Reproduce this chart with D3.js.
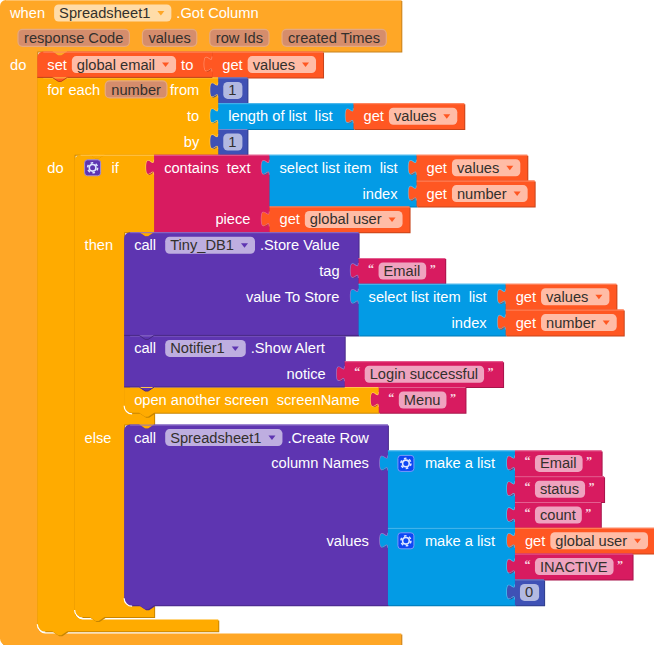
<!DOCTYPE html>
<html>
<head>
<meta charset="utf-8">
<script src="https://cdnjs.cloudflare.com/ajax/libs/d3/7.8.5/d3.min.js"></script>
<style>
body { margin: 0; background: #fff; }
svg { display: block; }
text { font-family: "Liberation Sans", Arial, sans-serif; font-size: 14.67px; white-space: pre; }
</style>
</head>
<body>
<div id="chart"></div>
<script>
// text of the blocks
var eventParams = ["response Code", "values", "row Ids", "created Times"];
var componentNames = ["Spreadsheet1", "Tiny_DB1", "Notifier1"];
var methodNames = [".Got Column", ".Store Value", ".Show Alert", ".Create Row"];
var loopNumbers = [1, 1];
var loopVar = "number";
var listValues = "values";
var globalEmail = "global email";
var globalUser = "global user";
var columnNames = ["Email", "status", "count"];
var rowValues = ["INACTIVE"];
var rowCount = [0];
var storeTag = "Email";
var alertText = "Login successful";
var screenName = "Menu";

var colors = {
    event: "#FFA726", control: "#FFAB00", variable: "#FF5722", math: "#3F51B5",
    text: "#D81B60", list: "#039BE5", component: "#5E35B1"
};

var width = 654;
var height = 645;
var rowH = 25.8;
var barH = 11.8;
var tabW = 8;

var ctx = document.createElement("canvas").getContext("2d");
ctx.font = "14.67px 'Liberation Sans'";
function textW(s) { return ctx.measureText(s).width; }

// parts of a row
function label(s) { return {type: "label", text: s, w: textW(s)}; }
function field(s) { return {type: "field", text: s, w: textW(s) + 26, arrow: true}; }
function chip(s) { return {type: "field", text: String(s), w: textW(String(s)) + 11}; }
function param(s, gap) { return {type: "param", text: s, w: textW(s) + 12, gap: gap}; }
function icon(c) { return {type: "icon", color: c, w: 16}; }
function quote(s) { return {type: "quote", text: s, w: 5}; }

function gapAfter(p, next) {
    if (p.gap) return p.gap;
    if (p.type == "icon") return 11;
    if (p.type == "quote") return 5;
    if (next && next.type == "quote") return 4;
    return 5;
}
function rowContent(row) {
    var w = row.indent || 0;
    row.parts.forEach(function (p, i) {
        w += p.w;
        if (i < row.parts.length - 1) w += gapAfter(p, row.parts[i + 1]);
    });
    return w;
}

// block builders
function value(color, rows, endPad, padL) {
    return {kind: "value", color: color, rows: rows, endPad: endPad === undefined ? 19 : endPad, padL: padL === undefined ? 10 : padL};
}
function stmt(color, rows, kind, endPad) {
    return {kind: kind || "stmt", color: color, rows: rows, endPad: endPad === undefined ? 19 : endPad, padL: 10};
}
function getVar(name) { return value(colors.variable, [{parts: [label("get"), field(name)]}], 7); }
function str(s) { return value(colors.text, [{parts: [quote("\u201c"), chip(s), quote("\u201d")]}], 10); }
function num(n) { return value(colors.math, [{parts: [chip(n)]}], 5, 5); }
function selectItem(list, index) {
    return value(colors.list, [
        {parts: [label("select list item\u00a0 list")], input: getVar(list)},
        {parts: [label("index")], input: getVar(index)}
    ]);
}
function makeList(inputs) {
    return value(colors.list, inputs.map(function (b, i) {
        return {parts: i == 0 ? [icon("#0D47F5"), label("make a list")] : [], input: b};
    }), 20);
}

var tree = stmt(colors.event, [
    {parts: [label("when\u00a0"), field(componentNames[0]), label(methodNames[0])]},
    {parts: eventParams.map(function (s) { return param(s, 13); }), indent: 8},
    {parts: [label("do")], stack: [
        stmt(colors.variable, [
            {parts: [label("set"), field(globalEmail), label("to")], input: getVar(listValues)}
        ]),
        stmt(colors.control, [
            {parts: [label("for each"), param(loopVar, 3), label("from")], input: num(loopNumbers[0])},
            {parts: [label("to")], input: value(colors.list, [
                {parts: [label("length of list\u00a0 list")], input: getVar(listValues)}
            ], 21)},
            {parts: [label("by")], input: num(loopNumbers[1])},
            {parts: [label("do")], stack: [
                stmt(colors.control, [
                    {parts: [icon("#5E35B1"), label("if")], input: value(colors.text, [
                        {parts: [label("contains\u00a0 text")], input: selectItem(listValues, loopVar)},
                        {parts: [label("piece")], input: getVar(globalUser)}
                    ])},
                    {parts: [label("then")], stack: [
                        stmt(colors.component, [
                            {parts: [label("call\u00a0"), field(componentNames[1]), label(methodNames[1])]},
                            {parts: [label("tag")], input: str(storeTag)},
                            {parts: [label("value To Store")], input: selectItem(listValues, loopVar)}
                        ]),
                        stmt(colors.component, [
                            {parts: [label("call\u00a0"), field(componentNames[2]), label(methodNames[2])]},
                            {parts: [label("notice")], input: str(alertText)}
                        ]),
                        stmt(colors.control, [
                            {parts: [label("open another screen\u00a0 screenName")], input: str(screenName)}
                        ])
                    ]},
                    {parts: [label("else")], stack: [
                        stmt(colors.component, [
                            {parts: [label("call\u00a0"), field(componentNames[0]), label(methodNames[3])]},
                            {parts: [label("column Names")], input: makeList(columnNames.map(str))},
                            {parts: [label("values")], input: makeList([getVar(globalUser)].concat(rowValues.map(str), rowCount.map(num)))}
                        ])
                    ]}
                ])
            ]}
        ])
    ]}
], "hat", 15);

// sizes first, children before parents
function measure(b) {
    var stackLabels = b.rows.filter(function (r) { return r.stack; });
    b.indent = stackLabels.length ? d3.max(stackLabels, rowContent) + b.padL + 11 : 0;
    var plain = b.rows.filter(function (r) { return !r.stack; });
    var content = d3.max(plain, rowContent) || 0;
    b.w = Math.max(b.padL + content + b.endPad, b.indent ? b.indent + 30 : 0);
    b.h = 0;
    b.rows.forEach(function (r) {
        if (r.input) {
            measure(r.input);
            r.h = Math.max(rowH, r.input.h);
        } else if (r.stack) {
            r.stack.forEach(measure);
            r.hole = d3.sum(r.stack, function (c) { return c.h; });
            // a nested statement block keeps a small gap under its notch
            if (r.stack[r.stack.length - 1].rows.some(function (q) { return q.stack; })) r.hole += 2.4;
            r.h = r.hole + barH;
        } else {
            r.h = rowH;
        }
        b.h += r.h;
    });
}

function shape(b, x, y, first, last) {
    var right = x + b.w;
    var d;
    if (b.kind == "value") {
        d = "M" + x + "," + y + "H" + right + "V" + (y + b.h) + "H" + x + "V" + (y + 20) +
            "c0,-10 -" + tabW + ",8 -" + tabW + ",-7.5s" + tabW + ",2.5 " + tabW + ",-7.5z";
        return d;
    }
    d = first ? "M" + x + "," + (y + 6) + "a6,6 0 0 1 6,-6" : "M" + x + "," + y;
    if (b.kind == "stmt") d += "H" + (x + 15) + "l6,4 3,0 6,-4";
    d += "H" + right;
    var cy = y;
    b.rows.forEach(function (r) {
        if (r.stack) {
            var hx = x + b.indent;
            var bottom = cy + r.hole;
            d += "V" + cy + "H" + (hx + 30) + "l-6,4 -3,0 -6,-4H" + hx + "V" + (bottom - 8) +
                "a8,8 0 0 0 8,8H" + right + "V" + (bottom + barH);
        }
        cy += r.h;
    });
    d += "V" + cy;
    if (b.kind == "stmt") d += "H" + (x + 30) + "l-6,4 -3,0 -6,-4";
    d += last ? "H" + (x + 7) + "a7,7 0 0 1 -7,-7z" : "H" + x + "z";
    return d;
}

var svg = d3.select("#chart").append("svg").attr("width", width).attr("height", height);
var blocksG = svg.append("g");
var overlay = svg.append("g");

function gear(g, cx, cy) {
    g.append("circle").attr("cx", cx).attr("cy", cy).attr("r", 3.3)
        .attr("fill", "none").attr("stroke", "#DDE6FF").attr("stroke-width", 1.6);
    g.append("circle").attr("cx", cx).attr("cy", cy).attr("r", 5)
        .attr("fill", "none").attr("stroke", "#DDE6FF").attr("stroke-width", 1.6)
        .attr("stroke-dasharray", "2.6 2.64");
}

function drawParts(g, b, r, x, y) {
    var px = x + b.padL + (r.indent || 0);
    r.parts.forEach(function (p, i) {
        if (p.type == "label") {
            g.append("text").attr("x", px).attr("y", y + 18).attr("fill", "#fff").text(p.text);
        } else if (p.type == "field") {
            g.append("rect").attr("x", px).attr("y", y + 4.5).attr("width", p.w).attr("height", 17)
                .attr("rx", 4.5).attr("fill", "#fff").attr("fill-opacity", 0.6);
            g.append("text").attr("x", px + 5).attr("y", y + 18).attr("fill", "#33302c").text(p.text);
            if (p.arrow) {
                var ax = px + p.w - 10.5;
                g.append("path").attr("fill", b.color)
                    .attr("d", "M" + (ax - 3.5) + "," + (y + 11) + "h7l-3.5,4.5z");
            }
        } else if (p.type == "param") {
            g.append("rect").attr("x", px).attr("y", y + 3.5).attr("width", p.w).attr("height", 17)
                .attr("rx", 4.5).attr("fill", "#D58D6C").attr("stroke", "#E6A97F").attr("stroke-width", 1.2);
            g.append("text").attr("x", px + 6).attr("y", y + 17.5).attr("fill", "#33302c").text(p.text);
        } else if (p.type == "icon") {
            g.append("rect").attr("x", px).attr("y", y + 5).attr("width", 16).attr("height", 16)
                .attr("rx", 3).attr("fill", p.color).attr("stroke", d3.interpolateRgb(p.color, "#fff")(0.45));
            gear(g, px + 8, y + 13);
        } else if (p.type == "quote") {
            g.append("text").attr("x", px - 0.5).attr("y", y + 15).attr("fill", "#fff").attr("fill-opacity", 0.85)
                .style("font-family", "'Liberation Serif'").style("font-weight", "bold").style("font-size", "12px")
                .text(p.text);
        }
        var next = r.parts[i + 1];
        px += p.w + gapAfter(p, next);
    });
}

function draw(b, x, y, first, last, parentColor) {
    var g = blocksG.append("g");
    var d = shape(b, x, y, first, last);
    g.append("path").attr("d", d).attr("transform", "translate(1,1)")
        .attr("fill", d3.interpolateRgb(b.color, "#000")(0.22));
    if (b.kind == "value") {
        // faint halo where the tab sits in the parent
        g.append("path").attr("fill", "none").attr("stroke", d3.interpolateRgb(parentColor, "#fff")(0.35))
            .attr("stroke-width", 1.4)
            .attr("d", "M" + x + "," + (y + 20) + "c0,-10 -" + tabW + ",8 -" + tabW + ",-7.5s" + tabW + ",2.5 " + tabW + ",-7.5");
    }
    g.append("path").attr("d", d).attr("fill", b.color);
    g.append("path").attr("fill", "none").attr("stroke", d3.interpolateRgb(b.color, "#fff")(0.3))
        .attr("d", "M" + (b.kind == "value" ? x : x + 6) + "," + (y + 0.5) + "H" + (x + b.w));

    var kids = [];
    var labelRight = x + b.w - b.endPad;
    var cy = y;
    b.rows.forEach(function (r, i) {
        var rx = x;
        if (r.input && i > 0) rx = labelRight - b.padL - rowContent(r);
        drawParts(g, b, r, rx, cy);
        if (r.input) kids.push([r.input, x + b.w, cy]);
        if (r.stack) {
            var sy = cy;
            var hx = x + b.indent;
            r.stack.forEach(function (c, k) {
                kids.push([c, hx, sy, k == 0, k == r.stack.length - 1]);
                sy += c.h;
                if (k < r.stack.length - 1) {
                    // seam between stacked blocks follows the notch
                    overlay.append("path").attr("fill", "none")
                        .attr("stroke", d3.interpolateRgb(c.color, "#000")(0.25))
                        .attr("d", "M" + hx + "," + sy + "h15l6,4 3,0 6,-4H" + (hx + c.w));
                }
            });
            overlay.append("path").attr("fill", "none").attr("stroke", "#fff").attr("stroke-width", 1.2)
                .attr("d", "M" + hx + "," + (sy - 7) + "a8,8 0 0 0 8,8");
        }
        cy += r.h;
    });
    kids.forEach(function (k) { draw(k[0], k[1], k[2], k[3], k[4], b.color); });
}

measure(tree);
draw(tree, 0, 0, true, true);
</script>
</body>
</html>
